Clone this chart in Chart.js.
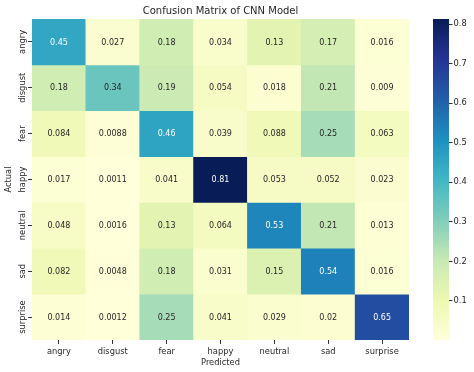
<!DOCTYPE html>
<html><head><meta charset="utf-8">
<script src="https://cdn.jsdelivr.net/npm/chart.js@4.4.0/dist/chart.umd.min.js"></script>
<style>
html,body{margin:0;padding:0;background:#fff;}
#wrap{position:relative;width:474px;height:372px;background:#fff;overflow:hidden;}
#main{position:absolute;left:0;top:0;}
#cbar{position:absolute;left:410px;top:0;}
</style></head><body>
<div id="wrap">
<canvas id="main" width="474" height="372"></canvas>
<canvas id="cbar" width="64" height="372"></canvas>
</div>
<script>
const chartTitle = 'Confusion Matrix of CNN Model';
const xTitle = 'Predicted';
const yTitle = 'Actual';
const classes = ['angry','disgust','fear','happy','neutral','sad','surprise'];
const rowAngry    = [0.45, 0.027, 0.18, 0.034, 0.13, 0.17, 0.016];
const rowDisgust  = [0.18, 0.34, 0.19, 0.054, 0.018, 0.21, 0.009];
const rowFear     = [0.084, 0.0088, 0.46, 0.039, 0.088, 0.25, 0.063];
const rowHappy    = [0.017, 0.0011, 0.041, 0.813, 0.053, 0.052, 0.023];
const rowNeutral  = [0.048, 0.0016, 0.13, 0.064, 0.53, 0.21, 0.013];
const rowSad      = [0.082, 0.0048, 0.18, 0.031, 0.15, 0.54, 0.016];
const rowSurprise = [0.014, 0.0012, 0.25, 0.041, 0.029, 0.02, 0.65];
const colorbarTicks = [0.1, 0.2, 0.3, 0.4, 0.5, 0.6, 0.7, 0.8];

const matrix = [rowAngry, rowDisgust, rowFear, rowHappy, rowNeutral, rowSad, rowSurprise];
const allVals = matrix.flat();
const vmin = Math.min(...allVals), vmax = Math.max(...allVals);

const FONT = '"DejaVu Sans", sans-serif';
const TXT = '#262626';
const cmapStops = ['#ffffd9','#edf8b1','#c7e9b4','#7fcdbb','#41b6c4','#1d91c0','#225ea8','#253494','#081d58'];
const hexRgb = h => [parseInt(h.slice(1,3),16), parseInt(h.slice(3,5),16), parseInt(h.slice(5,7),16)];
const stopsRgb = cmapStops.map(hexRgb);
function cmap(t){
  t = Math.max(0, Math.min(1, t));
  const p = t * (stopsRgb.length - 1);
  const i = Math.min(Math.floor(p), stopsRgb.length - 2);
  const f = p - i;
  const a = stopsRgb[i], b = stopsRgb[i+1];
  return [0,1,2].map(k => Math.round(a[k] + (b[k]-a[k])*f));
}
const norm = v => (v - vmin) / (vmax - vmin);
const rgbStr = c => `rgb(${c[0]},${c[1]},${c[2]})`;
const fmt = v => String(parseFloat(v.toPrecision(2)));
function lum(c){
  const l = c.map(x => { x /= 255; return x <= 0.03928 ? x/12.92 : Math.pow((x+0.055)/1.055, 2.4); });
  return 0.2126*l[0] + 0.7152*l[1] + 0.0722*l[2];
}

const textPlugin = {
  id: 'heatText',
  afterDatasetsDraw(chart){
    const ctx = chart.ctx;
    ctx.save();
    ctx.textAlign = 'center';
    ctx.textBaseline = 'middle';
    ctx.font = '8px ' + FONT;
    chart.data.datasets.forEach((ds, r) => {
      chart.getDatasetMeta(r).data.forEach((el, c) => {
        const p = el.getProps(['x','y','base'], true);
        const v = matrix[r][c];
        ctx.fillStyle = lum(cmap(norm(v))) > 0.408 ? TXT : '#ffffff';
        ctx.fillText(fmt(v), p.x, (p.y + p.base) / 2 + 0.5);
      });
    });
    const xs = chart.scales.x, ys = chart.scales.y, area = chart.chartArea;
    ctx.fillStyle = TXT;
    ctx.font = '8.3px ' + FONT;
    ctx.textBaseline = 'alphabetic';
    classes.forEach((c, i) => ctx.fillText(c, xs.getPixelForValue(i), 354));
    classes.forEach((c, i) => {
      ctx.save();
      ctx.translate(25, ys.getPixelForValue(i));
      ctx.rotate(-Math.PI/2);
      ctx.fillText(c, 0, 0);
      ctx.restore();
    });
    ctx.fillText(xTitle, (area.left + area.right)/2, 365);
    ctx.save();
    ctx.translate(11, (area.top + area.bottom)/2);
    ctx.rotate(-Math.PI/2);
    ctx.fillText(yTitle, 0, 0);
    ctx.restore();
    ctx.font = '10px ' + FONT;
    ctx.fillText(chartTitle, (area.left + area.right)/2, 14);
    ctx.restore();
  }
};

new Chart(document.getElementById('main'), {
  type: 'bar',
  data: {
    labels: classes,
    datasets: matrix.map((row, r) => ({
      label: classes[r],
      data: row.map(() => [r - 0.5, r + 0.5]),
      backgroundColor: row.map(v => rgbStr(cmap(norm(v)))),
      borderWidth: 0
    }))
  },
  options: {
    responsive: false,
    animation: false,
    layout: { padding: { top: 19, right: 65, bottom: 0, left: 0 } },
    plugins: { legend: { display: false }, tooltip: { enabled: false }, title: { display: false } },
    datasets: { bar: { grouped: false, barPercentage: 1, categoryPercentage: 1 } },
    scales: {
      x: {
        type: 'category', offset: true,
        grid: { drawOnChartArea: false, drawTicks: true, tickLength: 4, offset: false, color: '#333' },
        border: { display: false },
        ticks: { display: false },
        afterFit(s){ s.height = 32; }
      },
      y: {
        type: 'linear', min: -0.5, max: 6.5, reverse: true,
        afterBuildTicks(s){ s.ticks = classes.map((c, i) => ({ value: i })); },
        grid: { drawOnChartArea: false, drawTicks: true, tickLength: 4, color: '#333' },
        border: { display: false },
        ticks: { display: false },
        afterFit(s){ s.width = 32; }
      }
    }
  },
  plugins: [textPlugin]
});

new Chart(document.getElementById('cbar'), {
  type: 'bar',
  data: {
    labels: ['cb'],
    datasets: [{
      data: [[vmin, vmax]],
      borderWidth: 0,
      backgroundColor(ctx){
        const ch = ctx.chart, a = ch.chartArea;
        if (!a) return cmapStops[0];
        const g = ch.ctx.createLinearGradient(0, a.bottom, 0, a.top);
        cmapStops.forEach((c, i) => g.addColorStop(i / (cmapStops.length - 1), c));
        return g;
      }
    }]
  },
  options: {
    responsive: false,
    animation: false,
    layout: { padding: { top: 19, right: 0, bottom: 32, left: 23 } },
    plugins: { legend: { display: false }, tooltip: { enabled: false } },
    datasets: { bar: { barPercentage: 1, categoryPercentage: 1 } },
    scales: {
      x: { display: false, offset: true },
      y: {
        type: 'linear', position: 'right', min: vmin, max: vmax,
        afterBuildTicks(s){ s.ticks = colorbarTicks.map(v => ({ value: v })); },
        grid: { drawOnChartArea: false, drawTicks: true, tickLength: 3.5, color: '#333' },
        border: { display: false },
        ticks: { font: { family: FONT, size: 8.3 }, color: TXT, padding: 1, callback: v => String(v) },
        afterFit(s){ s.width = 25; }
      }
    }
  }
});
</script>
</body></html>
